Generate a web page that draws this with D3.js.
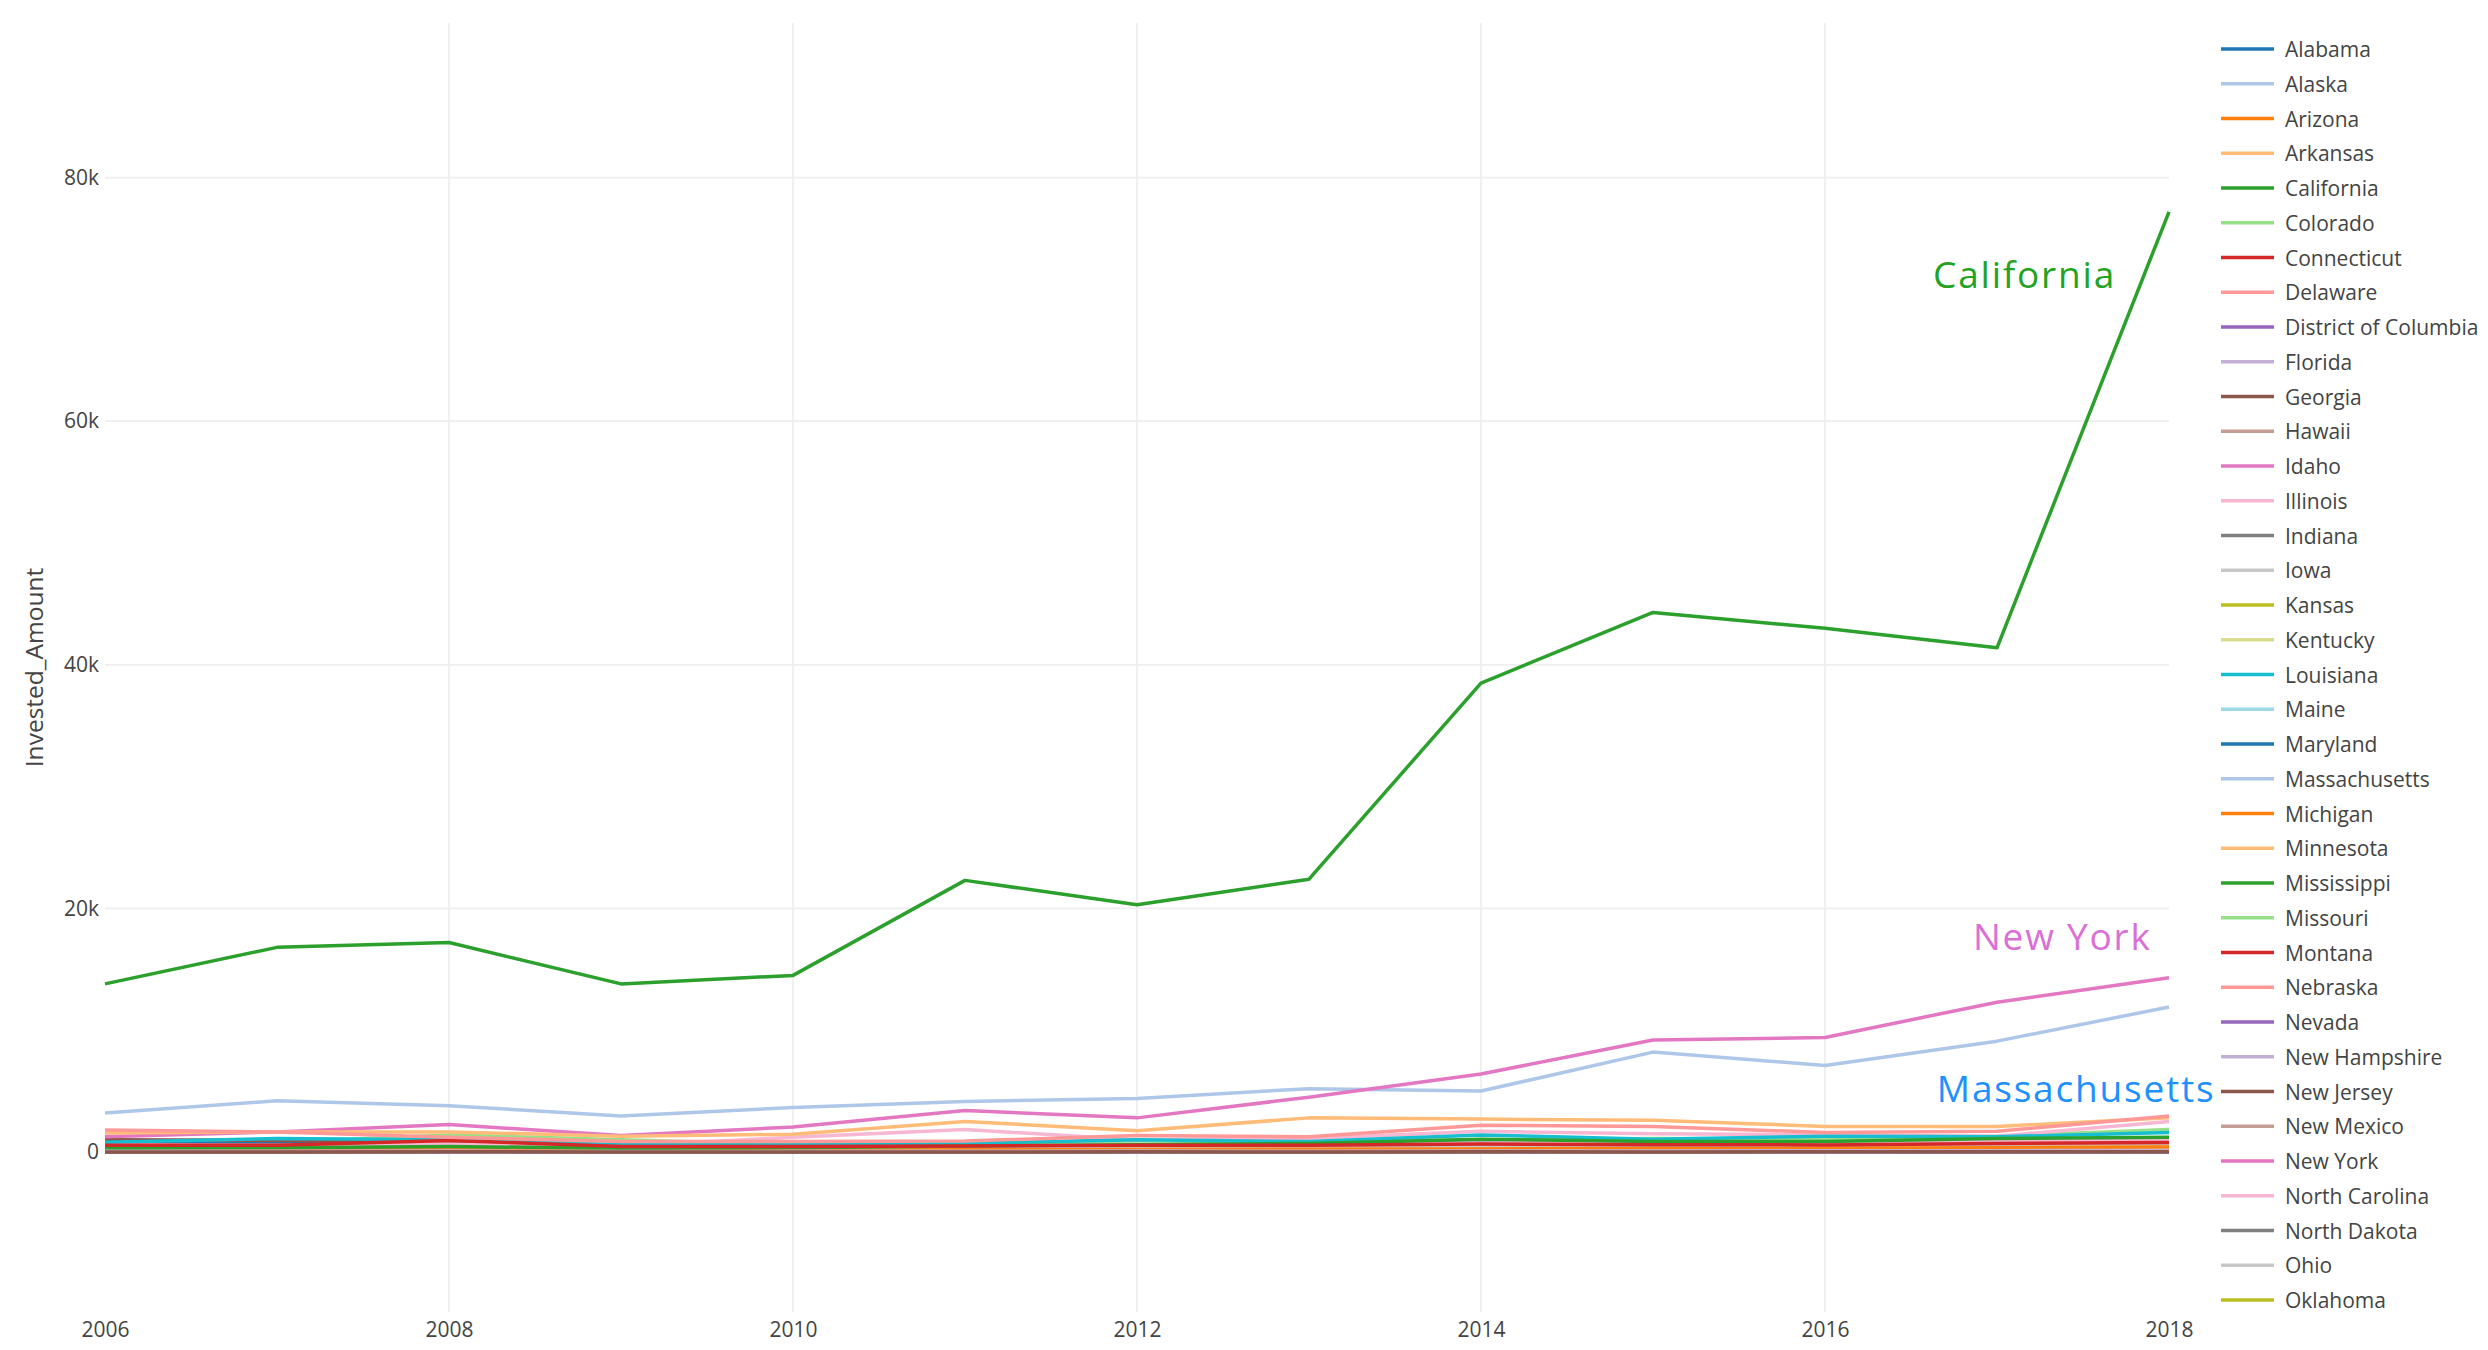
<!DOCTYPE html>
<html>
<head>
<meta charset="utf-8">
<script src="https://d3js.org/d3.v7.min.js"></script>
<style>
  html, body { margin: 0; padding: 0; background: #fff; }
  text { font-family: "Open Sans", "DejaVu Sans", sans-serif; }
</style>
</head>
<body>
<svg id="chart" width="2488" height="1350"></svg>
<script>
// DATA -- invested amount per state and year
const years = [2006, 2007, 2008, 2009, 2010, 2011, 2012, 2013, 2014, 2015, 2016, 2017, 2018];

const states = [
  "Alabama", "Alaska", "Arizona", "Arkansas", "California", "Colorado", "Connecticut",
  "Delaware", "District of Columbia", "Florida", "Georgia", "Hawaii", "Idaho", "Illinois",
  "Indiana", "Iowa", "Kansas", "Kentucky", "Louisiana", "Maine", "Maryland", "Massachusetts",
  "Michigan", "Minnesota", "Mississippi", "Missouri", "Montana", "Nebraska", "Nevada",
  "New Hampshire", "New Jersey", "New Mexico", "New York", "North Carolina", "North Dakota",
  "Ohio", "Oklahoma", "Oregon", "Pennsylvania", "Rhode Island", "South Carolina",
  "South Dakota", "Tennessee", "Texas", "Utah", "Vermont", "Virginia", "Washington",
  "West Virginia", "Wisconsin", "Wyoming"
];

// one row per state, same order as `states`
const invested = [
  [40, 45, 50, 30, 35, 40, 45, 50, 60, 55, 50, 60, 70],                    // Alabama
  [5, 5, 5, 2, 3, 4, 5, 5, 6, 5, 5, 6, 8],                                 // Alaska
  [200, 250, 200, 100, 150, 200, 150, 200, 300, 250, 300, 350, 400],       // Arizona
  [20, 25, 20, 10, 15, 20, 25, 30, 35, 30, 40, 45, 60],                    // Arkansas
  [13800, 16800, 17200, 13800, 14500, 22300, 20300, 22400, 38500, 44300, 43000, 41400, 77200], // California
  [700, 800, 1400, 1000, 600, 750, 900, 850, 1000, 1100, 1050, 1300, 1850],// Colorado
  [350, 350, 300, 200, 200, 250, 200, 250, 250, 300, 300, 350, 300],       // Connecticut
  [30, 40, 30, 20, 20, 30, 40, 30, 40, 50, 40, 60, 70],                    // Delaware
  [150, 200, 150, 100, 150, 200, 200, 250, 300, 350, 300, 400, 450],       // District of Columbia
  [500, 600, 550, 350, 450, 500, 500, 600, 800, 700, 800, 900, 1100],      // Florida
  [450, 500, 450, 300, 300, 350, 400, 450, 550, 600, 650, 800, 900],       // Georgia
  [15, 20, 15, 10, 10, 15, 20, 15, 20, 25, 20, 25, 30],                    // Hawaii
  [40, 50, 40, 30, 30, 40, 50, 40, 50, 60, 50, 60, 80],                    // Idaho
  [500, 600, 600, 500, 1200, 1850, 1000, 1100, 1700, 1500, 1400, 1300, 2500], // Illinois
  [100, 120, 110, 80, 90, 100, 110, 120, 150, 160, 150, 180, 250],         // Indiana
  [20, 30, 25, 15, 20, 25, 30, 35, 40, 45, 40, 50, 60],                    // Iowa
  [60, 70, 60, 40, 50, 60, 50, 60, 70, 80, 70, 90, 100],                   // Kansas
  [40, 50, 40, 30, 40, 50, 40, 50, 60, 50, 60, 70, 80],                    // Kentucky
  [30, 40, 50, 30, 40, 50, 60, 50, 70, 60, 50, 70, 80],                    // Louisiana
  [20, 25, 20, 15, 15, 20, 25, 20, 25, 30, 25, 30, 40],                    // Maine
  [700, 750, 600, 450, 500, 500, 450, 600, 550, 700, 600, 700, 800],       // Maryland
  [3200, 4200, 3800, 2950, 3650, 4150, 4400, 5200, 5000, 8200, 7100, 9100, 11900], // Massachusetts
  [150, 200, 150, 100, 150, 200, 250, 250, 300, 350, 300, 400, 450],       // Michigan
  [350, 300, 300, 200, 300, 250, 300, 400, 350, 400, 500, 550, 600],       // Minnesota
  [10, 10, 15, 5, 5, 10, 10, 15, 10, 15, 10, 20, 20],                      // Mississippi
  [100, 120, 150, 80, 100, 150, 120, 150, 200, 250, 220, 300, 350],        // Missouri
  [10, 10, 15, 5, 10, 15, 10, 20, 15, 20, 25, 20, 30],                     // Montana
  [15, 20, 15, 10, 15, 20, 25, 20, 30, 35, 30, 40, 50],                    // Nebraska
  [60, 80, 70, 40, 50, 60, 80, 70, 90, 100, 110, 120, 150],                // Nevada
  [120, 150, 120, 80, 100, 110, 100, 90, 110, 120, 100, 130, 150],         // New Hampshire
  [1000, 950, 900, 550, 600, 500, 450, 400, 400, 500, 450, 550, 600],      // New Jersey
  [30, 40, 35, 20, 25, 30, 35, 30, 40, 35, 30, 40, 50],                    // New Mexico
  [1250, 1650, 2250, 1350, 2050, 3400, 2800, 4500, 6400, 9200, 9400, 12300, 14300], // New York
  [600, 550, 650, 400, 500, 550, 500, 550, 700, 800, 750, 900, 1000],      // North Carolina
  [5, 5, 5, 2, 3, 5, 5, 5, 10, 8, 5, 10, 10],                              // North Dakota
  [250, 300, 300, 200, 250, 300, 350, 350, 400, 550, 450, 500, 600],       // Ohio
  [30, 40, 30, 20, 25, 30, 35, 30, 40, 35, 30, 40, 50],                    // Oklahoma
  [200, 200, 250, 100, 150, 200, 200, 150, 200, 250, 300, 300, 400],       // Oregon
  [800, 1100, 1000, 600, 650, 700, 1000, 850, 1400, 1050, 1300, 1250, 1600], // Pennsylvania
  [50, 60, 50, 30, 40, 50, 40, 50, 60, 70, 60, 80, 90],                    // Rhode Island
  [40, 50, 45, 30, 35, 40, 45, 50, 60, 55, 60, 70, 80],                    // South Carolina
  [5, 5, 5, 3, 3, 5, 5, 5, 8, 6, 5, 8, 10],                                // South Dakota
  [150, 200, 180, 120, 150, 180, 200, 220, 250, 280, 300, 350, 400],       // Tennessee
  [1550, 1650, 1650, 1300, 1450, 2500, 1750, 2800, 2700, 2600, 2100, 2100, 2800], // Texas
  [300, 350, 450, 300, 350, 500, 600, 700, 1050, 850, 850, 1100, 1200],    // Utah
  [20, 25, 20, 15, 15, 20, 25, 20, 25, 30, 25, 30, 35],                    // Vermont
  [550, 550, 950, 450, 450, 500, 550, 550, 650, 600, 580, 700, 780],       // Virginia
  [1800, 1650, 1200, 850, 850, 900, 1350, 1250, 2200, 2100, 1600, 1700, 2950], // Washington
  [10, 15, 10, 5, 10, 15, 10, 15, 20, 15, 10, 20, 25],                     // West Virginia
  [50, 60, 70, 40, 50, 60, 70, 60, 80, 90, 100, 110, 130],                 // Wisconsin
  [5, 5, 10, 5, 5, 5, 10, 5, 10, 5, 10, 10, 15]                            // Wyoming
];

const palette = [
  "#1f77b4", "#aec7e8", "#ff7f0e", "#ffbb78", "#2ca02c", "#98df8a", "#d62728",
  "#ff9896", "#9467bd", "#c5b0d5", "#8c564b", "#c49c94", "#e377c2", "#f7b6d2",
  "#7f7f7f", "#c7c7c7", "#bcbd22", "#dbdb8d", "#17becf", "#9edae5"
];

const xTicks = [2006, 2008, 2010, 2012, 2014, 2016, 2018];
const yTicks = [0, 20000, 40000, 60000, 80000];

// labels placed next to the three leading series: [text, year, value, colour]
const callouts = [
  ["California", 2017.16, 72100, "#22a322"],
  ["New York", 2017.38, 17800, "#da70d6"],
  ["Massachusetts", 2017.46, 5300, "#1e90ff"]
];

// LAYOUT
const plot = { left: 105, right: 2169, top: 23, bottom: 1312 };
const svg = d3.select("#chart");

const x = d3.scaleLinear().domain([2006, 2018]).range([plot.left, plot.right]);
const y = d3.scaleLinear().domain([-13140, 92700]).range([plot.bottom, plot.top]);

// grid
const grid = svg.append("g");
grid.selectAll("line.gx")
  .data(xTicks.filter(d => d > 2006 && d < 2018))
  .enter().append("line")
  .attr("x1", d => x(d)).attr("x2", d => x(d))
  .attr("y1", plot.top).attr("y2", plot.bottom)
  .attr("stroke", "#eee").attr("stroke-width", 1.75);
grid.selectAll("line.gy")
  .data(yTicks.filter(d => d !== 0))
  .enter().append("line")
  .attr("x1", plot.left).attr("x2", plot.right)
  .attr("y1", d => y(d)).attr("y2", d => y(d))
  .attr("stroke", "#eee").attr("stroke-width", 1.75);
grid.append("line")
  .attr("x1", plot.left).attr("x2", plot.right)
  .attr("y1", y(0)).attr("y2", y(0))
  .attr("stroke", "#444").attr("stroke-width", 1.75);

// axes
const xAxis = svg.append("g")
  .attr("transform", "translate(0," + plot.bottom + ")")
  .call(d3.axisBottom(x).tickValues(xTicks).tickFormat(d3.format("d")).tickSize(0));
xAxis.select(".domain").remove();
xAxis.selectAll("text")
  .attr("y", 18).attr("dy", "0.35em")
  .attr("font-size", 21).attr("fill", "#444")
  .attr("font-family", "Open Sans");

const yAxis = svg.append("g")
  .attr("transform", "translate(" + (plot.left - 3) + ",0)")
  .call(d3.axisLeft(y).tickValues(yTicks).tickFormat(d3.format("~s")).tickSize(0));
yAxis.select(".domain").remove();
yAxis.selectAll("text")
  .attr("font-size", 21).attr("fill", "#444")
  .attr("font-family", "Open Sans");

svg.append("text")
  .attr("transform", "translate(33," + ((plot.top + plot.bottom) / 2) + ") rotate(-90)")
  .attr("text-anchor", "middle")
  .attr("dominant-baseline", "central")
  .attr("font-size", 24.5).attr("fill", "#444")
  .text("Invested_Amount");

// lines
const line = d3.line()
  .x((d, i) => x(years[i]))
  .y(d => y(d));

svg.append("g")
  .selectAll("path")
  .data(invested)
  .enter().append("path")
  .attr("d", line)
  .attr("fill", "none")
  .attr("stroke", (d, i) => palette[i % palette.length])
  .attr("stroke-width", 3.5)
  .attr("stroke-linejoin", "round");

// callouts
svg.append("g")
  .selectAll("text")
  .data(callouts)
  .enter().append("text")
  .attr("x", d => x(d[1]))
  .attr("y", d => y(d[2]))
  .attr("text-anchor", "middle")
  .attr("dominant-baseline", "central")
  .attr("font-family", "Liberation Sans, Arial, sans-serif")
  .attr("font-size", 37)
  .attr("letter-spacing", 1.8)
  .attr("fill", d => d[3])
  .text(d => d[0]);

// legend: a scrolling legend in the original, only the entries that fit are shown
const legTop = 49, legStep = 34.75, legBottom = 1318;
const shown = states.filter((d, i) => legTop + i * legStep <= legBottom);

const item = svg.append("g").selectAll("g")
  .data(shown)
  .enter().append("g")
  .attr("transform", (d, i) => "translate(2221," + (legTop + i * legStep) + ")");
item.append("line")
  .attr("x1", 0).attr("x2", 53)
  .attr("stroke", (d, i) => palette[i % palette.length])
  .attr("stroke-width", 3.5);
item.append("text")
  .attr("x", 64)
  .attr("dominant-baseline", "central")
  .attr("font-size", 21).attr("fill", "#444")
  .text(d => d);
</script>
</body>
</html>
